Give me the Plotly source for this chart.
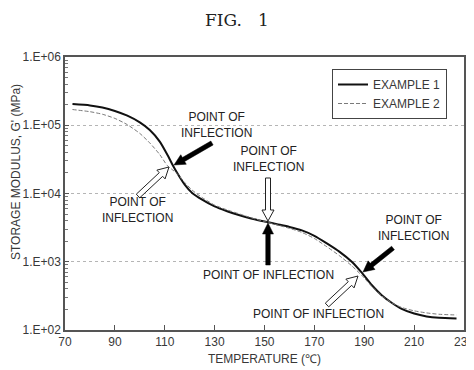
import math
import plotly.graph_objects as go

# ---- data ----
temps = [73, 80, 85, 90, 95, 100, 104, 108, 111, 113, 115, 118, 121, 125, 130, 135, 140,
         145, 150, 155, 160, 165, 170, 175, 180, 185, 189, 193, 197, 201, 205, 210, 215,
         220, 227]
gprime_ex1 = [204000, 195000, 182000, 162000, 138000, 110000, 85000, 57500, 37200, 26900,
              20000, 13500, 10200, 8130, 6460, 5500, 4790, 4270, 3890, 3550, 3240, 2880,
              2400, 1860, 1410, 1000, 692, 457, 324, 251, 204, 174, 158, 151, 148]
gprime_ex2 = [170000, 158000, 145000, 126000, 102000, 75900, 55000, 37200, 25700, 22400,
              19500, 14500, 11200, 8710, 6760, 5750, 5010, 4370, 3890, 3470, 3090, 2690,
              2190, 1660, 1230, 871, 631, 437, 316, 251, 214, 191, 178, 170, 166]

x_ticks = [70, 90, 110, 130, 150, 170, 190, 210, 230]
y_ticks = [1e2, 1e3, 1e4, 1e5, 1e6]
y_ticktext = ["1.E+02", "1.E+03", "1.E+04", "1.E+05", "1.E+06"]
series_names = ["EXAMPLE 1", "EXAMPLE 2"]

# ---- layout geometry (the page places the figure 8px in from the corner) ----
OFF = 8
W, H = 466, 362
ML, MR, MT, MB = 57, 10, 49, 40
PW, PH = W - ML - MR, H - MT - MB
FONT = "Liberation Sans, Arial, sans-serif"
TXT = "#383838"


def px2paper(x, y):
    """page pixel -> paper coordinates"""
    return (x - OFF - ML) / PW, (H - MB - (y - OFF)) / PH


def arrow_path(tail, tip, sw, hw, hl):
    dx, dy = tip[0] - tail[0], tip[1] - tail[1]
    L = math.hypot(dx, dy)
    ux, uy = dx / L, dy / L
    nx, ny = -uy, ux
    bx, by = tip[0] - ux * hl, tip[1] - uy * hl
    pts = [
        (tail[0] + nx * sw / 2, tail[1] + ny * sw / 2),
        (bx + nx * sw / 2, by + ny * sw / 2),
        (bx + nx * hw / 2, by + ny * hw / 2),
        tip,
        (bx - nx * hw / 2, by - ny * hw / 2),
        (bx - nx * sw / 2, by - ny * sw / 2),
        (tail[0] - nx * sw / 2, tail[1] - ny * sw / 2),
    ]
    s = ""
    for i, (x, y) in enumerate(pts):
        px, py = px2paper(x, y)
        s += ("M" if i == 0 else "L") + f"{px:.5f},{py:.5f} "
    return s + "Z"


fig = go.Figure()
fig.add_trace(go.Scatter(x=temps, y=gprime_ex1, mode="lines", name=series_names[0],
                         line=dict(color="#111111", width=2, shape="spline", smoothing=0.6)))
fig.add_trace(go.Scatter(x=temps, y=gprime_ex2, mode="lines", name=series_names[1],
                         line=dict(color="#7a7a7a", width=1, dash="4px,2px",
                                   shape="spline", smoothing=0.6)))

minor_vals = [m * 10 ** e for e in range(2, 6) for m in range(2, 10)]

lx, ly = px2paper(332, 69)
fig.update_layout(
    template="none",
    width=W, height=H,
    margin=dict(l=ML, r=MR, t=MT, b=MB, autoexpand=False),
    paper_bgcolor="white", plot_bgcolor="white",
    font=dict(family=FONT, size=12, color=TXT),
    showlegend=True,
    legend=dict(x=lx, y=ly, xanchor="left", yanchor="top",
                bgcolor="white", bordercolor="#444444", borderwidth=1,
                font=dict(family=FONT, size=12, color=TXT)),
    xaxis=dict(range=[70, 230], tickvals=x_ticks, ticks="inside", ticklen=5,
               tickcolor="#555555", showgrid=False, zeroline=False, automargin=False,
               ticklabeloverflow="allow",
               showline=True, linecolor="#555555", linewidth=1.5, mirror=True,
               tickfont=dict(family=FONT, size=12, color=TXT)),
    yaxis=dict(type="log", range=[2, 6], tickvals=y_ticks, ticktext=y_ticktext,
               ticks="inside", ticklen=4, tickcolor="#555555", automargin=False,
               showgrid=True, gridcolor="#b5b5b5", griddash="dot", gridwidth=1,
               zeroline=False, showline=True, linecolor="#555555", linewidth=1.5,
               mirror=True, tickfont=dict(family=FONT, size=12, color=TXT),
               minor=dict(tickvals=minor_vals, ticks="inside", ticklen=3,
                          tickcolor="#777777", showgrid=False)),
)

annos = []
fx, fy = px2paper(237, 8)
annos.append(dict(x=fx, y=fy, xref="paper", yref="paper", showarrow=False,
                  xanchor="center", yanchor="top", text="FIG.\u00a0\u00a0\u00a01",
                  font=dict(family="DejaVu Serif, Liberation Serif, serif", size=17,
                            color="#222222")))
tx, ty = px2paper(16, 172)
annos.append(dict(x=tx, y=ty, xref="paper", yref="paper", showarrow=False, textangle=-90,
                  xanchor="center", yanchor="middle",
                  text="STORAGE MODULUS, G' (MPa)", font=dict(size=12, color=TXT)))
tx, ty = px2paper(264, 359)
annos.append(dict(x=tx, y=ty, xref="paper", yref="paper", showarrow=False,
                  xanchor="center", yanchor="middle",
                  text="TEMPERATURE (℃)", font=dict(size=12, color=TXT)))

labels = [
    ("POINT OF<br>INFLECTION", 216, 125),
    ("POINT OF<br>INFLECTION", 137, 210),
    ("POINT OF<br>INFLECTION", 268, 159),
    ("POINT OF INFLECTION", 268, 275),
    ("POINT OF<br>INFLECTION", 413, 228),
    ("POINT OF INFLECTION", 318, 314),
]
for text, x, y in labels:
    ax_, ay_ = px2paper(x, y)
    annos.append(dict(x=ax_, y=ay_, xref="paper", yref="paper", showarrow=False,
                      xanchor="center", yanchor="middle",
                      text=text, font=dict(size=12, color="#222222")))
fig.update_layout(annotations=annos)

arrows = [
    ((212, 143), (174, 165), True),
    ((138, 196), (169, 167), False),
    ((268, 178), (268, 221), False),
    ((268, 265), (268, 223), True),
    ((393, 248), (363, 272), True),
    ((327, 305), (358, 276), False),
]
shapes = []
for tail, tip, filled in arrows:
    if filled:
        shapes.append(dict(type="path", xref="paper", yref="paper",
                           path=arrow_path(tail, tip, 4.5, 11, 11),
                           fillcolor="#000000", line=dict(color="#000000", width=0.5)))
    else:
        shapes.append(dict(type="path", xref="paper", yref="paper",
                           path=arrow_path(tail, tip, 5, 12, 11),
                           fillcolor="white", line=dict(color="#222222", width=1)))
fig.update_layout(shapes=shapes)

fig.write_html("out.html")
